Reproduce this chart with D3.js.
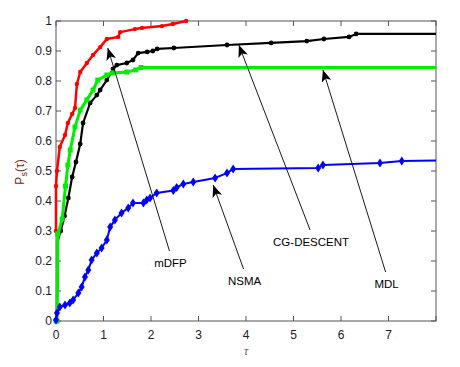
<!DOCTYPE html>
<html>
<head>
<meta charset="utf-8">
<script src="https://cdn.jsdelivr.net/npm/d3@7"></script>
<style>
  body { margin: 0; background: #fff; }
  svg text { font-family: "Liberation Sans", Arial, sans-serif; }
</style>
</head>
<body>
<svg id="chart" width="460" height="367"></svg>
<script>
// performance profile data (tau, P)
var mdfpTau = [0, 0, 0.02, 0.08, 0.19, 0.25, 0.34, 0.40, 0.44, 0.51, 0.65, 0.78, 0.93, 1.07, 1.31, 1.35, 1.66, 1.81, 2.23, 2.46, 2.74];
var mdfpP   = [0.30, 0.45, 0.50, 0.58, 0.62, 0.66, 0.69, 0.71, 0.79, 0.83, 0.86, 0.887, 0.913, 0.94, 0.947, 0.963, 0.973, 0.977, 0.983, 0.99, 1.0];

var cgTau = [0.02, 0.04, 0.10, 0.18, 0.26, 0.34, 0.42, 0.51, 0.57, 0.72, 0.86, 0.93, 1.07, 1.20, 1.28, 1.49, 1.62, 1.73, 1.92, 2.04, 2.13, 2.48, 3.60, 4.53, 5.28, 5.64, 6.17, 6.32, 8];
var cgP   = [0.0, 0.27, 0.30, 0.35, 0.41, 0.48, 0.53, 0.59, 0.66, 0.727, 0.753, 0.77, 0.803, 0.84, 0.853, 0.86, 0.87, 0.893, 0.897, 0.90, 0.907, 0.91, 0.92, 0.927, 0.933, 0.94, 0.947, 0.957, 0.957];

var mdlTau = [0, 0.02, 0.04, 0.13, 0.20, 0.25, 0.30, 0.40, 0.51, 0.65, 0.78, 0.88, 1.07, 1.20, 1.49, 1.68, 1.79, 8];
var mdlP   = [0, 0.0, 0.29, 0.34, 0.45, 0.52, 0.57, 0.647, 0.703, 0.737, 0.77, 0.803, 0.82, 0.827, 0.83, 0.837, 0.845, 0.845];

var nsmaTau = [0, 0.02, 0.08, 0.19, 0.29, 0.36, 0.47, 0.54, 0.61, 0.68, 0.75, 0.86, 0.96, 1.07, 1.14, 1.24, 1.38, 1.52, 1.62, 1.84, 1.91, 1.98, 2.12, 2.47, 2.54, 2.68, 2.89, 3.35, 3.60, 3.73, 5.52, 5.62, 6.82, 7.28, 8];
var nsmaP   = [0.003, 0.027, 0.047, 0.053, 0.06, 0.07, 0.093, 0.113, 0.147, 0.17, 0.203, 0.227, 0.243, 0.27, 0.313, 0.337, 0.36, 0.377, 0.393, 0.393, 0.403, 0.41, 0.427, 0.435, 0.445, 0.457, 0.463, 0.477, 0.493, 0.507, 0.51, 0.52, 0.527, 0.533, 0.535];

var xTicks = [0, 1, 2, 3, 4, 5, 6, 7];
var yTicks = [0, 0.1, 0.2, 0.3, 0.4, 0.5, 0.6, 0.7, 0.8, 0.9, 1];

// annotation labels: [text, label tau, label P, arrow tip tau, arrow tip P]
var notes = [
  ["mDFP",       2.41, 0.18, 1.09, 0.91],
  ["NSMA",       3.97, 0.12, 3.31, 0.453],
  ["CG-DESCENT", 5.37, 0.25, 3.85, 0.92],
  ["MDL",        6.96, 0.11, 5.62, 0.837]
];

var svg = d3.select("#chart");
var mLeft = 56, mRight = 436, mTop = 21, mBottom = 321;

var x = d3.scaleLinear().domain([0, 8]).range([mLeft, mRight]);
var y = d3.scaleLinear().domain([0, 1]).range([mBottom, mTop]);

function zip(t, p) {
  return t.map(function (d, i) { return [d, p[i]]; });
}

var line = d3.line()
  .x(function (d) { return x(d[0]); })
  .y(function (d) { return y(d[1]); });

// axes box with inward ticks on all sides
var axisCol = "#555";
svg.append("rect")
  .attr("x", mLeft).attr("y", mTop)
  .attr("width", mRight - mLeft).attr("height", mBottom - mTop)
  .attr("fill", "none").attr("stroke", axisCol).attr("stroke-width", 1);

var ax = svg.append("g").attr("class", "ticks");
xTicks.concat([8]).forEach(function (t) {
  ax.append("line").attr("x1", x(t)).attr("x2", x(t)).attr("y1", mBottom).attr("y2", mBottom - 5).attr("stroke", axisCol);
  ax.append("line").attr("x1", x(t)).attr("x2", x(t)).attr("y1", mTop).attr("y2", mTop + 5).attr("stroke", axisCol);
});
yTicks.forEach(function (t) {
  ax.append("line").attr("x1", mLeft).attr("x2", mLeft + 5).attr("y1", y(t)).attr("y2", y(t)).attr("stroke", axisCol);
  ax.append("line").attr("x1", mRight).attr("x2", mRight - 5).attr("y1", y(t)).attr("y2", y(t)).attr("stroke", axisCol);
});

svg.selectAll("text.xt").data(xTicks).enter().append("text")
  .attr("class", "xt")
  .attr("x", function (d) { return x(d); })
  .attr("y", mBottom + 18)
  .attr("text-anchor", "middle")
  .attr("font-size", 12)
  .attr("fill", "#1a1a2a")
  .text(function (d) { return d; });

svg.selectAll("text.yt").data(yTicks).enter().append("text")
  .attr("class", "yt")
  .attr("x", mLeft - 4)
  .attr("y", function (d) { return y(d) + 4; })
  .attr("text-anchor", "end")
  .attr("font-size", 12)
  .attr("fill", "#1a1a2a")
  .text(function (d) { return d3.format("~g")(d); });

// axis labels
svg.append("text")
  .attr("x", x(4)).attr("y", 355)
  .attr("text-anchor", "middle")
  .attr("font-size", 11)
  .attr("font-style", "italic")
  .attr("fill", "#666")
  .text("τ");

var yl = svg.append("text")
  .attr("transform", "translate(24," + 172 + ") rotate(-90)")
  .attr("text-anchor", "middle")
  .attr("font-size", 12)
  .attr("fill", "#6e1f0f");
yl.append("tspan").text("P");
yl.append("tspan").attr("font-size", 9).attr("dy", 3).text("s");
yl.append("tspan").attr("dy", -3).text("(τ)");

// curves
var plot = svg.append("g");

function drawSeries(data, col, w) {
  plot.append("path")
    .datum(data)
    .attr("d", line)
    .attr("fill", "none")
    .attr("stroke", col)
    .attr("stroke-width", w)
    .attr("stroke-linejoin", "round");
}

var mdfp = zip(mdfpTau, mdfpP);
var cg = zip(cgTau, cgP);
var mdl = zip(mdlTau, mdlP);
var nsma = zip(nsmaTau, nsmaP);

drawSeries(mdfp, "#ff0000", 2.5);
plot.selectAll("circle.r").data(mdfp).enter()
  .append("circle").attr("class", "r")
  .attr("cx", function (d) { return x(d[0]); })
  .attr("cy", function (d) { return y(d[1]); })
  .attr("r", 2.2).attr("fill", "#ff0000");

drawSeries(cg, "#000", 2.2);
plot.selectAll("circle.k").data(cg.filter(function (d) { return d[0] > 0.05 && d[0] < 8; })).enter()
  .append("circle").attr("class", "k")
  .attr("cx", function (d) { return x(d[0]); })
  .attr("cy", function (d) { return y(d[1]); })
  .attr("r", 2.4).attr("fill", "#000");

drawSeries(mdl, "#00ee00", 3);
plot.selectAll("rect.g").data(mdl.filter(function (d) { return d[0] < 8; })).enter()
  .append("rect").attr("class", "g")
  .attr("x", function (d) { return x(d[0]) - 2.5; })
  .attr("y", function (d) { return y(d[1]) - 2.5; })
  .attr("width", 5).attr("height", 5).attr("fill", "#00ee00");

drawSeries(nsma, "#0000ff", 2);
plot.selectAll("path.b").data(nsma.filter(function (d) { return d[0] < 8; })).enter()
  .append("path").attr("class", "b")
  .attr("transform", function (d) { return "translate(" + x(d[0]) + "," + y(d[1]) + ")"; })
  .attr("d", "M0,-4.5L3,0L0,4.5L-3,0Z")
  .attr("fill", "#0000ff");

// annotations with arrows
svg.append("defs").append("marker")
  .attr("id", "head")
  .attr("viewBox", "0 0 12 10")
  .attr("refX", 12).attr("refY", 5)
  .attr("markerWidth", 12).attr("markerHeight", 10)
  .attr("markerUnits", "userSpaceOnUse")
  .attr("orient", "auto")
  .append("path")
  .attr("d", "M0,0L12,5L0,10L3,5Z")
  .attr("fill", "#000");

notes.forEach(function (n) {
  var lx = x(n[1]), ly = y(n[2]);
  svg.append("line")
    .attr("x1", lx - 1).attr("y1", ly - 16)
    .attr("x2", x(n[3])).attr("y2", y(n[4]))
    .attr("stroke", "#000").attr("stroke-width", 0.9)
    .attr("marker-end", "url(#head)");
  svg.append("text")
    .attr("x", lx).attr("y", ly)
    .attr("text-anchor", "middle")
    .attr("font-size", 11.5)
    .attr("fill", "#000")
    .text(n[0]);
});
</script>
</body>
</html>
